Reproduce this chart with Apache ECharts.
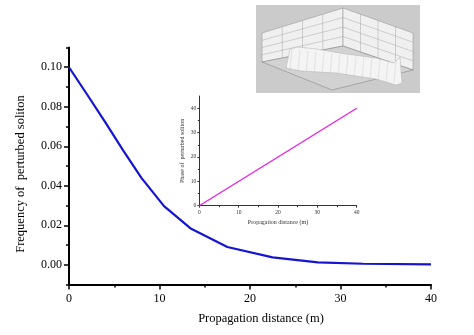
<!DOCTYPE html>
<html>
<head>
<meta charset="utf-8">
<script src="https://cdn.jsdelivr.net/npm/echarts@6/dist/echarts.min.js"></script>
<style>
  html, body { margin: 0; padding: 0; background: #fff; }
  #chart { width: 474px; height: 335px; }
</style>
</head>
<body>
<div id="chart"></div>
<script>
// Frequency of the perturbed soliton versus propagation distance
const distance = [0, 2, 4, 6, 8, 10.5, 13.5, 17.5, 22.5, 27.5, 32.5, 40];
const frequency = [0.100, 0.0862, 0.0722, 0.0578, 0.0440, 0.0297, 0.0182, 0.0090, 0.0037, 0.0012, 0.0005, 0.0002];

// Phase of the perturbed soliton (inset): grows linearly with distance
const phaseDistance = [0, 40];
const phase = [0, 40];

const freqTicks = [0, 0.02, 0.04, 0.06, 0.08, 0.10];
const freqMinorTicks = [-0.01, 0.01, 0.03, 0.05, 0.07, 0.09, 0.11];
const phaseTicks = [0, 10, 20, 30, 40];
const phaseMinorTicks = [5, 15, 25, 35];

const serif = '"Liberation Serif", "Times New Roman", serif';

const chart = echarts.init(document.getElementById('chart'), null, { renderer: 'canvas' });

const mainAxisLine = { show: true, onZero: false, lineStyle: { color: '#000', width: 2 } };
const insetAxisLine = { show: true, onZero: false, lineStyle: { color: '#333', width: 1 } };

// small picture of the 3D surface in the top-right corner
function surfacePicture() {
  const ox = 256, oy = 5;
  const p = (x, y) => [ox + x, oy + y];
  const els = [];
  els.push({ type: 'rect', shape: { x: ox, y: oy, width: 164, height: 88 }, style: { fill: '#cbcbcb' }, silent: true });
  // back walls
  els.push({ type: 'polygon', shape: { points: [p(6, 28), p(87, 3), p(87, 41), p(6, 57)] }, style: { fill: '#f0f0f0', stroke: '#9a9a9a', lineWidth: 0.6 }, silent: true });
  els.push({ type: 'polygon', shape: { points: [p(87, 3), p(157, 28), p(157, 65), p(87, 41)] }, style: { fill: '#f0f0f0', stroke: '#9a9a9a', lineWidth: 0.6 }, silent: true });
  // floor
  els.push({ type: 'polygon', shape: { points: [p(6, 57), p(87, 41), p(157, 65), p(76, 85)] }, style: { fill: '#d2d2d2', stroke: '#8a8a8a', lineWidth: 0.6 }, silent: true });
  // wall grid lines
  for (let i = 1; i < 4; i++) {
    const t = i / 4;
    els.push({ type: 'line', shape: { x1: ox + 6 + 81 * t, y1: oy + 28 - 25 * t, x2: ox + 6 + 81 * t, y2: oy + 57 - 16 * t }, style: { stroke: '#a8a8a8', lineWidth: 0.5 }, silent: true });
    els.push({ type: 'line', shape: { x1: ox + 87 + 70 * t, y1: oy + 3 + 25 * t, x2: ox + 87 + 70 * t, y2: oy + 41 + 24 * t }, style: { stroke: '#a8a8a8', lineWidth: 0.5 }, silent: true });
    els.push({ type: 'line', shape: { x1: ox + 6, y1: oy + 28 + 29 * t, x2: ox + 87, y2: oy + 3 + 38 * t }, style: { stroke: '#a8a8a8', lineWidth: 0.5 }, silent: true });
    els.push({ type: 'line', shape: { x1: ox + 87, y1: oy + 3 + 38 * t, x2: ox + 157, y2: oy + 28 + 37 * t }, style: { stroke: '#a8a8a8', lineWidth: 0.5 }, silent: true });
  }
  // ridge of the soliton surface
  els.push({ type: 'polygon', shape: { points: [p(30, 63), p(34, 44), p(42, 42), p(60, 44), p(90, 49), p(120, 53), p(138, 58), p(144, 52), p(146, 78), p(140, 80), p(120, 74), p(80, 68), p(45, 66)] }, style: { fill: '#f4f4f4', stroke: '#b0b0b0', lineWidth: 0.5 }, silent: true });
  for (let i = 0; i < 14; i++) {
    const x = 36 + i * 8;
    els.push({ type: 'line', shape: { x1: ox + x, y1: oy + 44 + i * 0.9, x2: ox + x - 2, y2: oy + 66 + i * 0.9 }, style: { stroke: '#c4c4c4', lineWidth: 0.4 }, silent: true });
  }
  return els;
}

chart.setOption({
  animation: false,
  backgroundColor: '#fff',
  grid: [
    { left: 69, right: 43, top: 47.5, bottom: 50.5, containLabel: false },
    { left: 199.3, right: 117.3, top: 96, bottom: 129.3, containLabel: false }
  ],
  xAxis: [
    {
      gridIndex: 0, type: 'value', min: 0, max: 40, interval: 10,
      name: 'Propagation distance (m)', nameLocation: 'middle', nameGap: 28,
      nameTextStyle: { fontFamily: serif, fontSize: 12.5, color: '#000', padding: [0, 0, 0, 22] },
      axisLine: mainAxisLine,
      axisTick: { show: true, length: 5, lineStyle: { color: '#000', width: 1.5 } },
      minorTick: { show: true, splitNumber: 2, length: 3, lineStyle: { color: '#000', width: 1.5 } },
      axisLabel: { fontFamily: serif, fontSize: 12, color: '#000', margin: 8 },
      splitLine: { show: false }
    },
    {
      gridIndex: 1, type: 'value', min: 0, max: 40, interval: 10,
      name: 'Propagation distance (m)', nameLocation: 'middle', nameGap: 14,
      nameTextStyle: { fontFamily: serif, fontSize: 6, color: '#333' },
      axisLine: insetAxisLine,
      axisTick: { show: true, length: 2, lineStyle: { color: '#333', width: 1 } },
      minorTick: { show: true, splitNumber: 2, length: 1.5, lineStyle: { color: '#333', width: 1 } },
      axisLabel: { fontFamily: serif, fontSize: 5.5, color: '#333', margin: 4 },
      splitLine: { show: false }
    }
  ],
  yAxis: [
    {
      gridIndex: 0, type: 'value', position: 'left', min: -0.01, max: 0.11,
      name: 'Frequency of  perturbed soliton', nameLocation: 'middle', nameGap: 42,
      nameTextStyle: { fontFamily: serif, fontSize: 12.5, color: '#000', padding: [0, 16, 0, 0] },
      axisLine: mainAxisLine,
      axisTick: { show: true, length: 5, customValues: freqTicks, lineStyle: { color: '#000', width: 1.5 } },
      axisLabel: { fontFamily: serif, fontSize: 12, color: '#000', margin: 7, customValues: freqTicks,
        formatter: v => v.toFixed(2) },
      splitLine: { show: false }
    },
    {
      gridIndex: 0, type: 'value', position: 'left', offset: 0, min: -0.01, max: 0.11,
      axisLine: { show: false, onZero: false },
      axisTick: { show: true, length: 3, customValues: freqMinorTicks, lineStyle: { color: '#000', width: 1.5 } },
      axisLabel: { show: false },
      splitLine: { show: false }
    },
    {
      gridIndex: 1, type: 'value', position: 'left', min: 0, max: 45,
      name: 'Phase of  perturbed soliton', nameLocation: 'middle', nameGap: 14,
      nameTextStyle: { fontFamily: serif, fontSize: 6, color: '#333' },
      axisLine: insetAxisLine,
      axisTick: { show: true, length: 2, customValues: phaseTicks, lineStyle: { color: '#333', width: 1 } },
      axisLabel: { fontFamily: serif, fontSize: 5.5, color: '#333', margin: 3, customValues: phaseTicks },
      splitLine: { show: false }
    },
    {
      gridIndex: 1, type: 'value', position: 'left', offset: 0, min: 0, max: 45,
      axisLine: { show: false, onZero: false },
      axisTick: { show: true, length: 1.5, customValues: phaseMinorTicks, lineStyle: { color: '#333', width: 1 } },
      axisLabel: { show: false },
      splitLine: { show: false }
    }
  ],
  series: [
    {
      type: 'line', xAxisIndex: 0, yAxisIndex: 0,
      data: distance.map((d, i) => [d, frequency[i]]),
      showSymbol: false, smooth: false,
      lineStyle: { color: '#1414d2', width: 2.2 }
    },
    {
      type: 'line', xAxisIndex: 1, yAxisIndex: 2,
      data: phaseDistance.map((d, i) => [d, phase[i]]),
      showSymbol: false,
      lineStyle: { color: '#e81ee8', width: 1.3 }
    }
  ],
  graphic: surfacePicture()
});
</script>
</body>
</html>
